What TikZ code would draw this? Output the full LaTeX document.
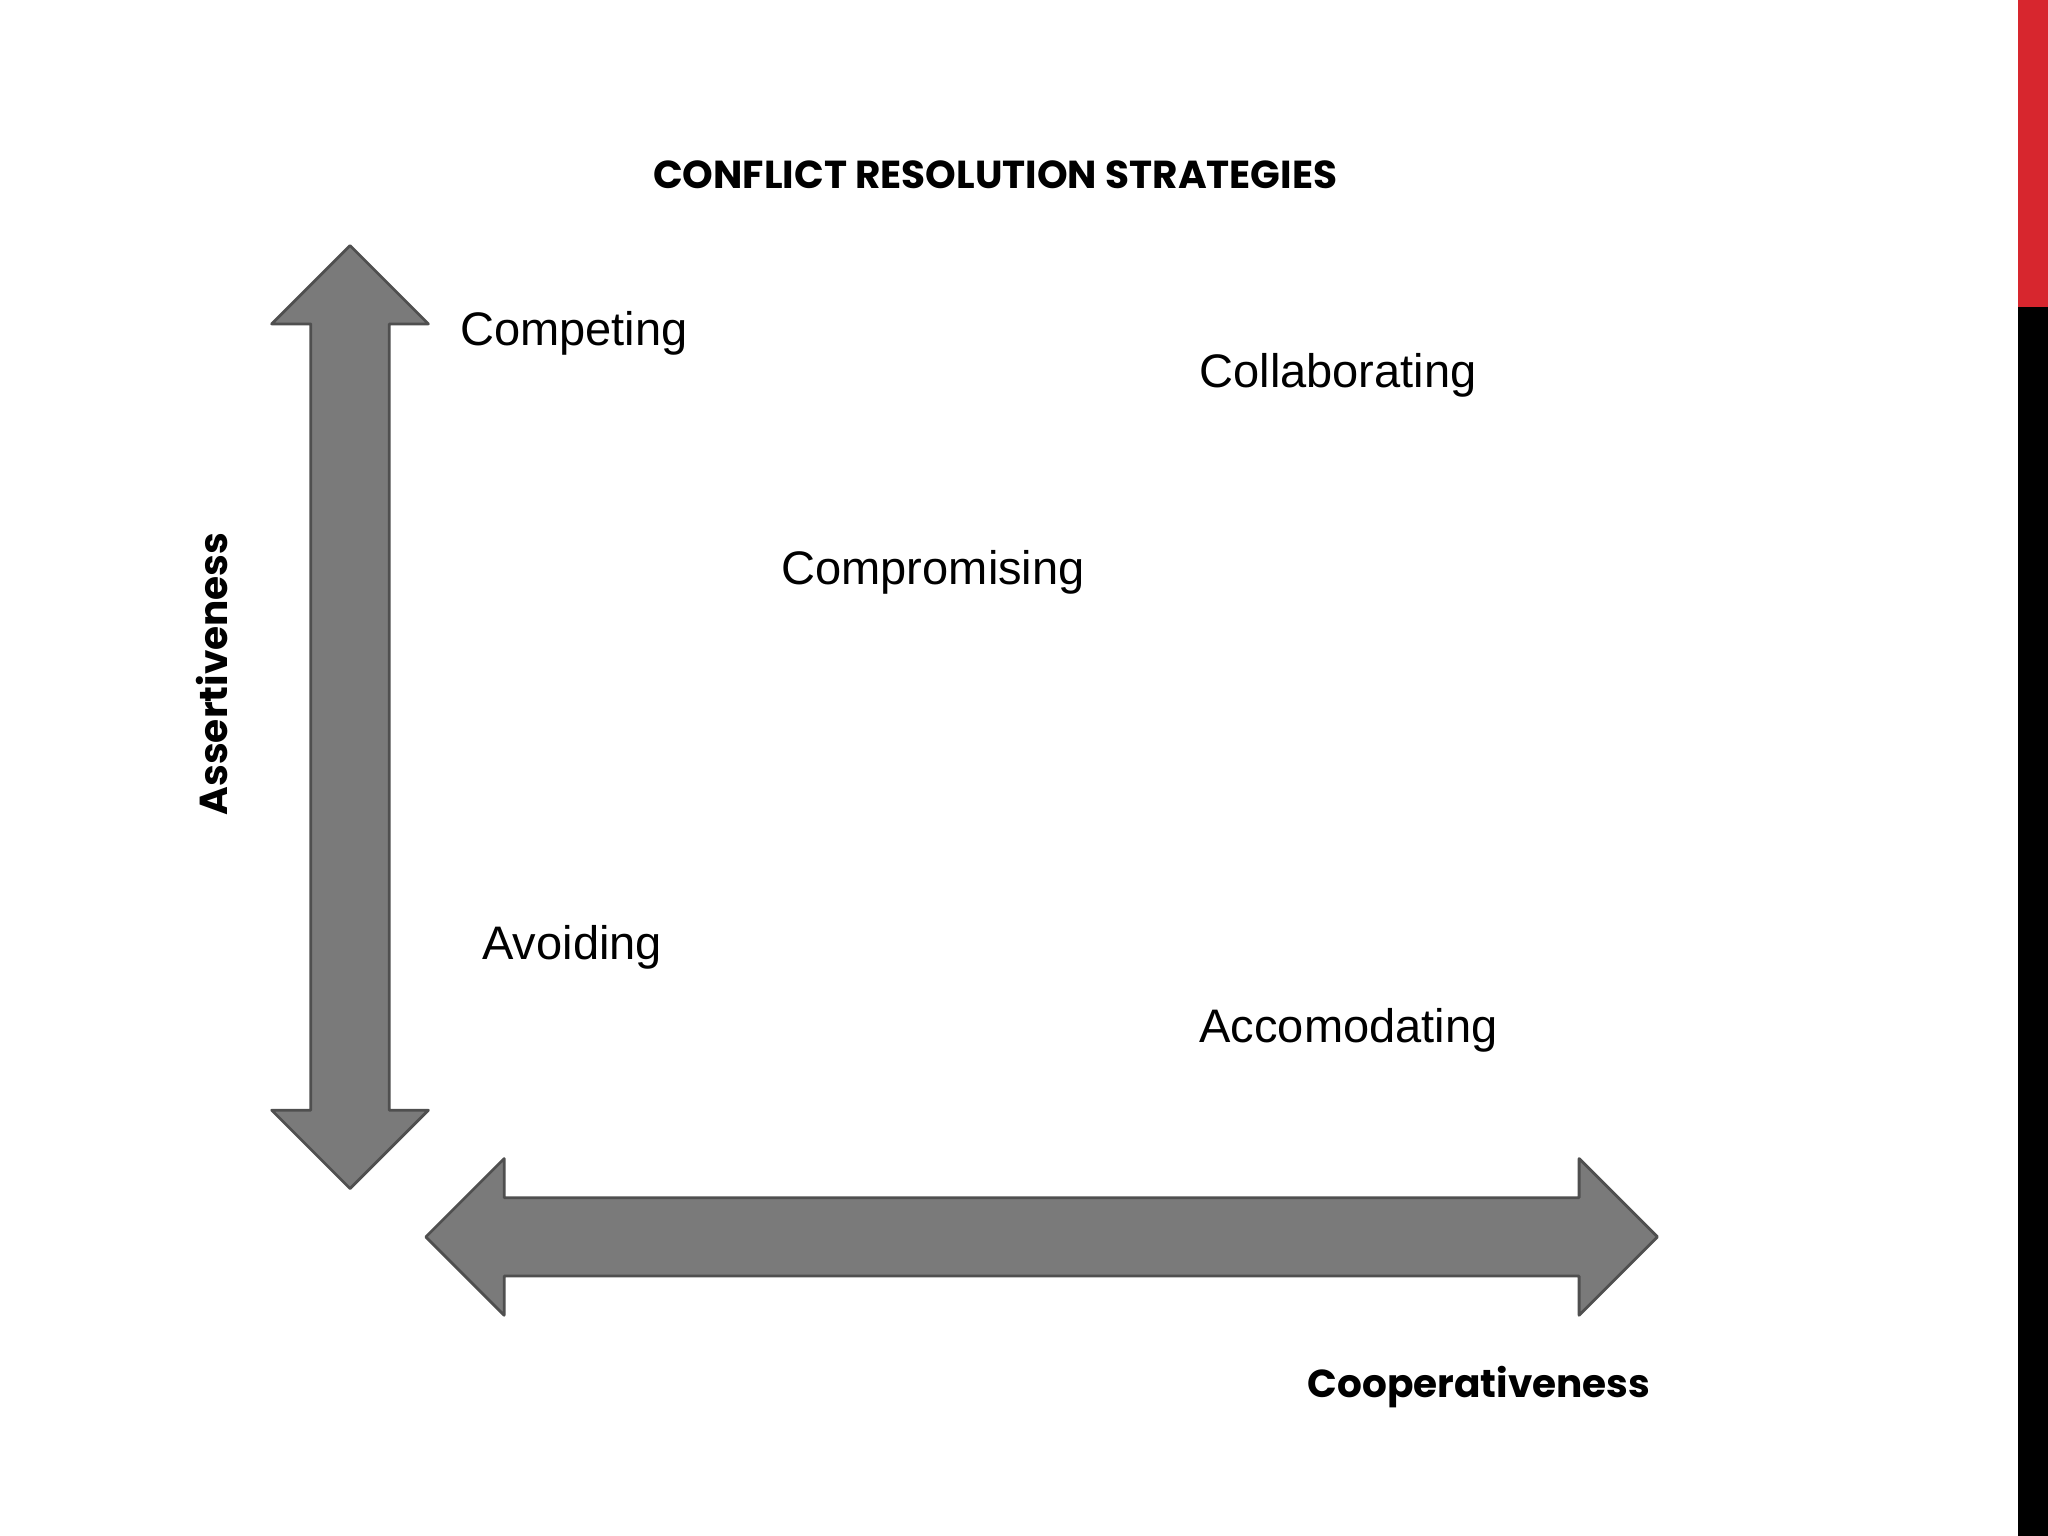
\documentclass[tikz,border=0pt]{standalone}
\usepackage{fontspec}
\setmainfont{Liberation Sans}
\newfontfamily\headfont{Poppins Bold}
\definecolor{arrowfill}{HTML}{7A7A7A}
\definecolor{arrowline}{HTML}{4F4F4F}
\definecolor{barred}{HTML}{D7262E}
\begin{document}
\begin{tikzpicture}[x=0.02cm,y=-0.02cm,
  lbl/.style={anchor=west,inner sep=0pt,font=\fontsize{20.5}{24}\selectfont},
  hd/.style={inner sep=0pt,font=\headfont\fontsize{17}{20}\selectfont},
  bigarrow/.style={fill=arrowfill,draw=arrowline,line width=1.2pt,line join=round}]
\useasboundingbox (0,0) rectangle (1568,1176);
\fill[barred] (1545,0) rectangle (1568,235);
\fill[black] (1545,235) rectangle (1568,1176);
\draw[bigarrow] (268,188) -- (328,248) -- (298,248) -- (298,850) -- (328,850) -- (268,910) -- (208,850) -- (238,850) -- (238,248) -- (208,248) -- cycle;
\draw[bigarrow] (326,947) -- (386,887) -- (386,917) -- (1209,917) -- (1209,887) -- (1269,947) -- (1209,1007) -- (1209,977) -- (386,977) -- (386,1007) -- cycle;
\node[hd] (title) at (762,134) {CONFLICT RESOLUTION STRATEGIES};
\node[hd,rotate=90] (ass) at (162,516) {Assertiveness};
\node[hd,anchor=east] (coop) at (1264,1062) {Cooperativeness};
\node[lbl] (comp) at (352,255) {Competing};
\node[lbl] (coll) at (918,287) {Collaborating};
\node[lbl] (compr) at (598,438) {Compromising};
\node[lbl] (avoid) at (369,725) {Avoiding};
\node[lbl] (acc) at (918,789) {Accomodating};
\end{tikzpicture}
\end{document}
